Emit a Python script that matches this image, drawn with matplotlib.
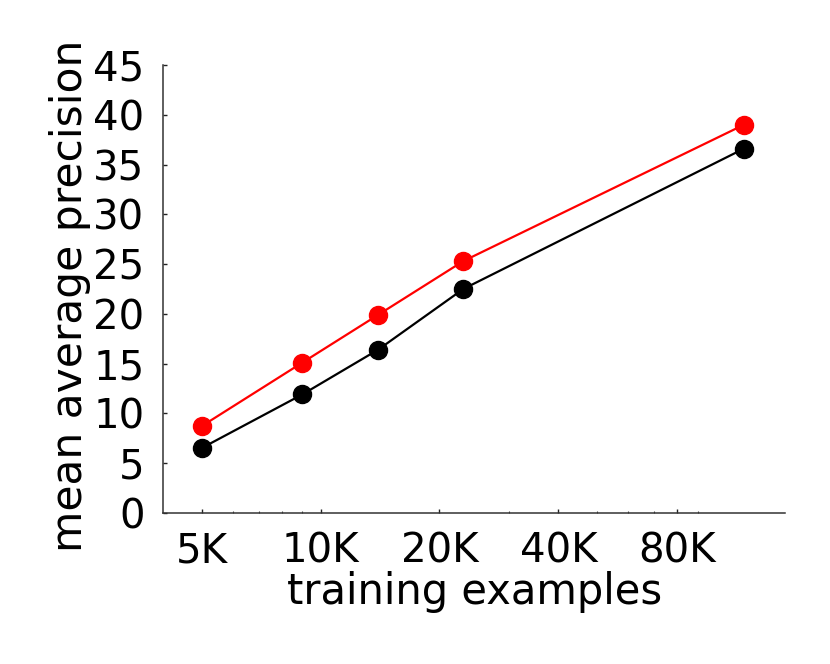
import matplotlib
matplotlib.use("Agg")
import matplotlib.pyplot as plt
from matplotlib.ticker import FixedLocator, NullFormatter

# Data
examples = [5000, 9000, 14000, 23000, 118000]
red_map = [8.7, 15.1, 19.9, 25.3, 39.0]
black_map = [6.5, 11.9, 16.4, 22.5, 36.6]

x_major = [5000, 10000, 20000, 40000, 80000]
x_major_labels = ["5K", "10K", "20K", "40K", "80K"]
x_minor = [6000, 7000, 8000, 9000, 30000, 50000, 60000, 70000, 90000]
y_ticks = [0, 5, 10, 15, 20, 25, 30, 35, 40, 45]

plt.rcParams['font.family'] = ['DejaVu Sans']

fig = plt.figure(figsize=(8.3, 6.64), dpi=100)
W, H = 830, 664
left, right, top, bottom = 163.3, 785.2, 65.0, 512.8
ax = fig.add_axes([left / W, 1 - bottom / H, (right - left) / W, (bottom - top) / H])

ax.plot(examples, black_map, color='black', lw=1.6, marker='o', ms=13, zorder=3, clip_on=False)
ax.plot(examples, red_map, color='red', lw=1.6, marker='o', ms=13, zorder=3, clip_on=False)

ax.set_xscale('log')
ax.set_xlim(4000, 150000)
ax.set_ylim(0, 45)

ax.xaxis.set_major_locator(FixedLocator(x_major))
ax.set_xticklabels(x_major_labels)
ax.xaxis.set_minor_locator(FixedLocator(x_minor))
ax.xaxis.set_minor_formatter(NullFormatter())
ax.set_yticks(y_ticks)
ax.set_yticklabels([str(v) for v in y_ticks])

for s in ['top', 'right']:
    ax.spines[s].set_visible(False)
for s in ['left', 'bottom']:
    ax.spines[s].set_color('#333333')
    ax.spines[s].set_linewidth(1.1)

ax.tick_params(axis='both', which='major', direction='in', length=3.2, width=1.0,
               color='#222222', labelsize=29, pad=13.5)
ax.tick_params(axis='x', which='minor', direction='in', length=1.6, width=0.8, color='#444444')
ax.tick_params(axis='y', which='minor', left=False)

ax.set_xlabel('training examples', fontsize=30)
ax.xaxis.set_label_coords((475 - left) / (right - left), (bottom - 571) / (bottom - top))
ax.set_ylabel('mean average precision', fontsize=30.5)
ax.yaxis.set_label_coords((91 - left) / (right - left), (bottom - 295.5) / (bottom - top))

fig.savefig('out.png', dpi=100)
